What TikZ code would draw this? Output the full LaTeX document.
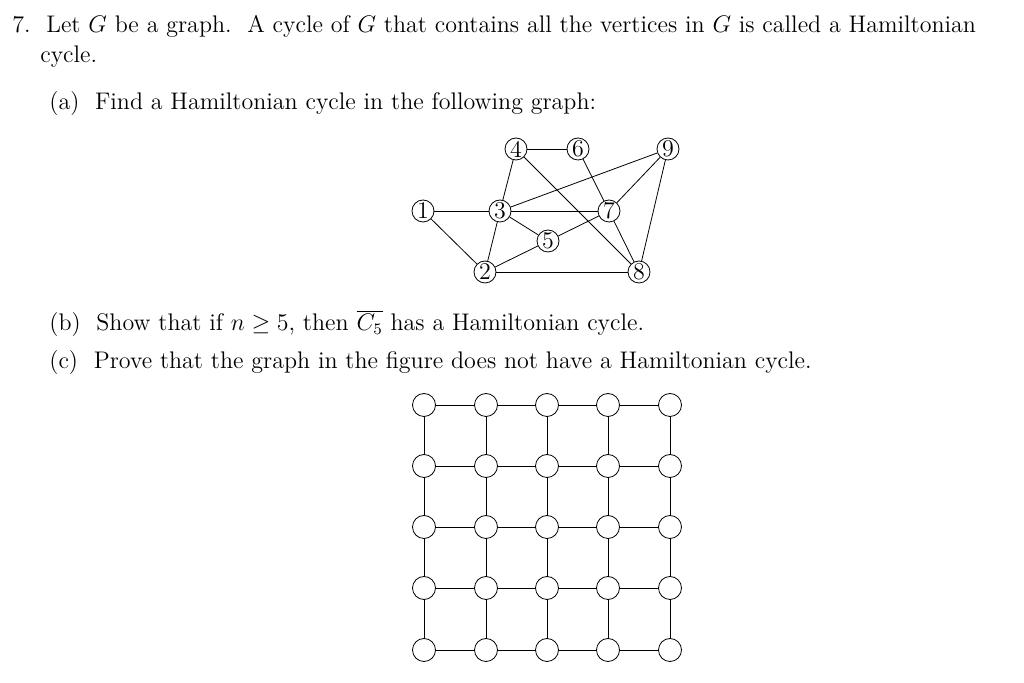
\documentclass[tikz,border=0pt]{standalone}
\begin{document}
\begin{tikzpicture}[x=0.5pt,y=-0.5pt,font=\fontsize{12}{14}\selectfont,
  txt/.style={anchor=base west,inner sep=0pt},
  vx/.style={circle,draw,inner sep=0pt,minimum size=11pt},
  gv/.style={circle,draw,fill=white,inner sep=0pt,minimum size=11.5pt}]
\useasboundingbox (0,0) rectangle (1024,683);
\node[txt] (t1) at (12,33) {7.\ \ Let $G$ be a graph.\ \ A cycle of $G$ that contains all the vertices in $G$ is called a Hamiltonian};
\node[txt] (t2) at (40,63) {cycle.};
\node[txt] (ta) at (49,110) {(a)\ \ Find a Hamiltonian cycle in the following graph:};
\node[txt] (tb) at (49,331) {(b)\ \ Show that if $n\geq 5$, then $\overline{C_5}$ has a Hamiltonian cycle.};
\node[txt] (tc) at (49,369) {(c)\ \ Prove that the graph in the figure does not have a Hamiltonian cycle.};
\node[vx] (n4) at (516,149) {4};
\node[vx] (n6) at (578,149) {6};
\node[vx] (n9) at (668,149) {9};
\node[vx] (n1) at (423,211) {1};
\node[vx] (n3) at (500,211) {3};
\node[vx] (n7) at (609,211) {7};
\node[vx] (n5) at (548,241) {5};
\node[vx] (n2) at (485,272) {2};
\node[vx] (n8) at (639,272) {8};
\foreach \a/\b in {4/6,4/3,4/8,6/7,9/3,9/7,9/8,1/3,1/2,3/7,3/5,3/2,5/7,5/2,2/8,7/8}
  \draw (n\a) -- (n\b);
\foreach \i/\x in {1/424,2/486,3/547,4/608,5/670}
  \foreach \j/\y in {1/405,2/466,3/527,4/588,5/650}
    \node[gv] (g\i\j) at (\x,\y) {};
\foreach \i [count=\k from 2] in {1,...,4}
  \foreach \j in {1,...,5} {
    \draw (g\i\j) -- (g\k\j);
    \draw (g\j\i) -- (g\j\k);
  }
\end{tikzpicture}
\end{document}
